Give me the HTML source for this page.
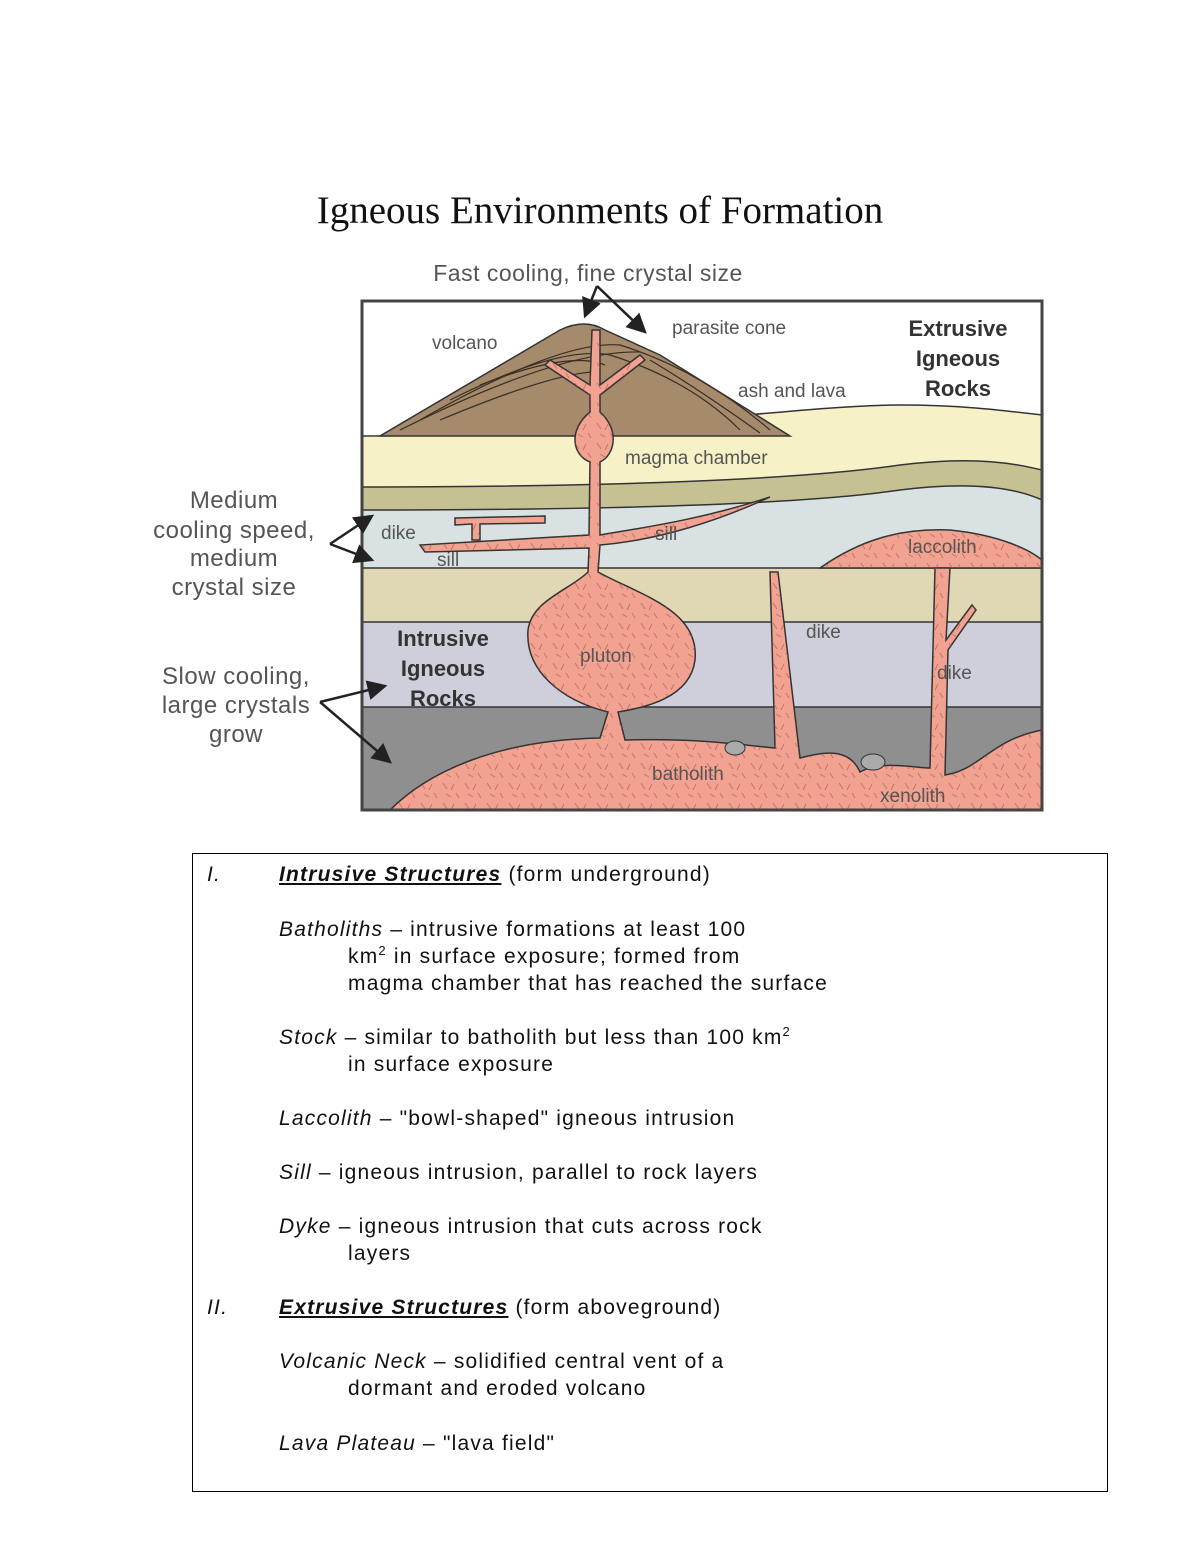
<!DOCTYPE html>
<html><head><meta charset="utf-8"><style>
body{margin:0;background:#fff;width:1200px;height:1553px;position:relative;overflow:hidden;font-family:"Liberation Sans",Arial,sans-serif}
.t{position:absolute;left:0;width:1200px;top:188px;text-align:center;font-family:"Liberation Serif",serif;font-size:39px;color:#111}
.box{position:absolute;left:192px;top:853px;width:914px;height:637px;border:1px solid #000}
.p{position:absolute;font-size:21px;letter-spacing:1.2px;color:#111;line-height:27px;white-space:nowrap}
.i{font-style:italic}
.h{font-style:italic;font-weight:bold;text-decoration:underline}
</style></head><body>
<div class="t">Igneous Environments of Formation</div>
<svg width="1200" height="830" style="position:absolute;left:0;top:0" font-family="Liberation Sans,sans-serif">
<defs><marker id="a" markerWidth="8" markerHeight="8" refX="7" refY="4" orient="auto"><path d="M0,0L8,4L0,8z" fill="#222"/></marker>
<pattern id="d" width="22" height="20" patternUnits="userSpaceOnUse"><path d="M3,3l4,6M14,4l-3,6M6,14l5,3M16,13l3,5" stroke="#a8564a" stroke-width="1"/></pattern></defs>
<text x="588" y="281" font-size="23" fill="#555" text-anchor="middle" letter-spacing=".5">Fast cooling, fine crystal size</text>
<rect x="362" y="301" width="680" height="509" fill="#fff"/>
<path d="M362,436 C600,436 800,405 900,405 C960,405 1000,410 1042,415 L1042,810 L362,810z" fill="#f6f1c6"/>
<path d="M362,487 C600,487 800,480 900,465 C980,455 1020,465 1042,470 L1042,810 L362,810z" fill="#c6c193"/>
<path d="M362,510 C600,510 800,505 900,490 C980,480 1020,490 1042,500 L1042,810 L362,810z" fill="#d9e2e3"/>
<path d="M362,568 L1042,568 L1042,810 L362,810z" fill="#e0d7b5"/>
<path d="M362,622 L1042,622 L1042,810 L362,810z" fill="#cfcfdc"/>
<path d="M362,707 L1042,707 L1042,810 L362,810z" fill="#8f8f8f"/>
<g stroke="#333" stroke-width="1.5" fill="none"><path d="M362,436 C600,436 800,405 900,405 C960,405 1000,410 1042,415"/><path d="M362,487 C600,487 800,480 900,465 C980,455 1020,465 1042,470"/><path d="M362,510 C600,510 800,505 900,490 C980,480 1020,490 1042,500"/><path d="M362,568H1042M362,622H1042M362,707H1042"/></g>
<path d="M380,436 L560,330 Q585,318 605,330 L660,355 L790,436z" fill="#a58a6c" stroke="#333" stroke-width="1.5"/>
<g stroke="#3a2e22" stroke-width="1.2" fill="none"><path d="M420,420 Q560,340 620,345 Q700,370 770,430"/><path d="M450,400 Q560,345 610,355 Q690,380 740,430"/><path d="M480,385 Q570,350 605,365"/><path d="M650,360 Q700,390 760,433"/><path d="M400,430 Q560,350 640,352"/><path d="M440,420 Q560,370 600,372"/></g>
<g id="pk">
<path d="M820,568 C860,540 900,528 950,530 C1000,535 1030,550 1042,560 L1042,568z"/>
<path d="M390,810 C430,770 500,740 600,738 L608,712 C560,700 525,670 528,630 C532,600 570,590 588,572 L589,548 L425,552 L420,545 L589,535 L590,462 C572,455 568,430 590,412 L590,395 L545,365 L550,360 L590,385 L592,330 L600,330 L600,385 L640,355 L645,360 L600,395 L600,412 C620,430 615,455 600,462 L600,535 C640,528 700,520 770,497 C720,520 660,540 600,545 L598,572 C640,595 700,610 695,660 C690,700 640,708 618,712 L625,740 C700,738 740,745 775,748 L770,572 L778,572 L800,758 C830,750 850,750 860,772 C880,760 915,768 930,768 L935,568 L950,568 L946,640 L972,605 L976,610 L948,650 L945,775 C980,770 990,740 1042,730 L1042,810z"/>
<path d="M455,518 L545,516 L545,523 L480,524 L480,540 L472,540 L472,524 L455,525z"/>
</g>
<use href="#pk" fill="#f2a290" stroke="#333" stroke-width="1.5"/>
<use href="#pk" fill="url(#d)" opacity=".6"/>
<g fill="#aaa" stroke="#333"><ellipse cx="735" cy="748" rx="10" ry="7"/><ellipse cx="873" cy="762" rx="12" ry="8"/></g>
<rect x="362" y="301" width="680" height="509" fill="none" stroke="#444" stroke-width="3"/>
<g font-size="19" fill="#555"><text x="432" y="349">volcano</text><text x="672" y="334">parasite cone</text><text x="738" y="397">ash and lava</text><text x="625" y="464">magma chamber</text><text x="381" y="539">dike</text><text x="437" y="566">sill</text><text x="655" y="540">sill</text><text x="908" y="553">laccolith</text><text x="580" y="662">pluton</text><text x="806" y="638">dike</text><text x="937" y="679">dike</text><text x="652" y="780">batholith</text><text x="880" y="802">xenolith</text></g>
<g font-size="22" font-weight="bold" fill="#333" text-anchor="middle"><text x="958" y="336">Extrusive</text><text x="958" y="366">Igneous</text><text x="958" y="396">Rocks</text><text x="443" y="646">Intrusive</text><text x="443" y="676">Igneous</text><text x="443" y="706">Rocks</text></g>
<g font-size="24" fill="#555" text-anchor="middle" letter-spacing=".5"><text x="234" y="508">Medium</text><text x="234" y="538">cooling speed,</text><text x="234" y="566">medium</text><text x="234" y="595">crystal size</text><text x="236" y="684">Slow cooling,</text><text x="236" y="713">large crystals</text><text x="236" y="742">grow</text></g>
<g stroke="#222" stroke-width="2.5" fill="none" marker-end="url(#a)"><path d="M597,286 L585,316"/><path d="M597,286 L645,332"/><path d="M330,544 L372,516"/><path d="M330,544 L372,560"/><path d="M320,702 L385,686"/><path d="M320,702 L390,762"/></g>
</svg>
<div class="box"></div>
<div class="p" style="left:207px;top:861px"><span class="i">I.</span></div>
<div class="p" style="left:279px;top:861px"><span class="h">Intrusive Structures</span> (form underground)</div>
<div class="p" style="left:279px;top:916px"><span class="i">Batholiths</span> – intrusive formations at least 100</div>
<div class="p" style="left:348px;top:943px">km<sup style="font-size:13px;line-height:0">2</sup> in surface exposure; formed from</div>
<div class="p" style="left:348px;top:970px">magma chamber that has reached the surface</div>
<div class="p" style="left:279px;top:1024px"><span class="i">Stock</span> – similar to batholith but less than 100 km<sup style="font-size:13px;line-height:0">2</sup></div>
<div class="p" style="left:348px;top:1051px">in surface exposure</div>
<div class="p" style="left:279px;top:1105px"><span class="i">Laccolith</span> – "bowl-shaped" igneous intrusion</div>
<div class="p" style="left:279px;top:1159px"><span class="i">Sill</span> – igneous intrusion, parallel to rock layers</div>
<div class="p" style="left:279px;top:1213px"><span class="i">Dyke</span> – igneous intrusion that cuts across rock</div>
<div class="p" style="left:348px;top:1240px">layers</div>
<div class="p" style="left:207px;top:1294px"><span class="i">II.</span></div>
<div class="p" style="left:279px;top:1294px"><span class="h">Extrusive Structures</span> (form aboveground)</div>
<div class="p" style="left:279px;top:1348px"><span class="i">Volcanic Neck</span> – solidified central vent of a</div>
<div class="p" style="left:348px;top:1375px">dormant and eroded volcano</div>
<div class="p" style="left:279px;top:1430px"><span class="i">Lava Plateau</span> – "lava field"</div>
</body></html>
